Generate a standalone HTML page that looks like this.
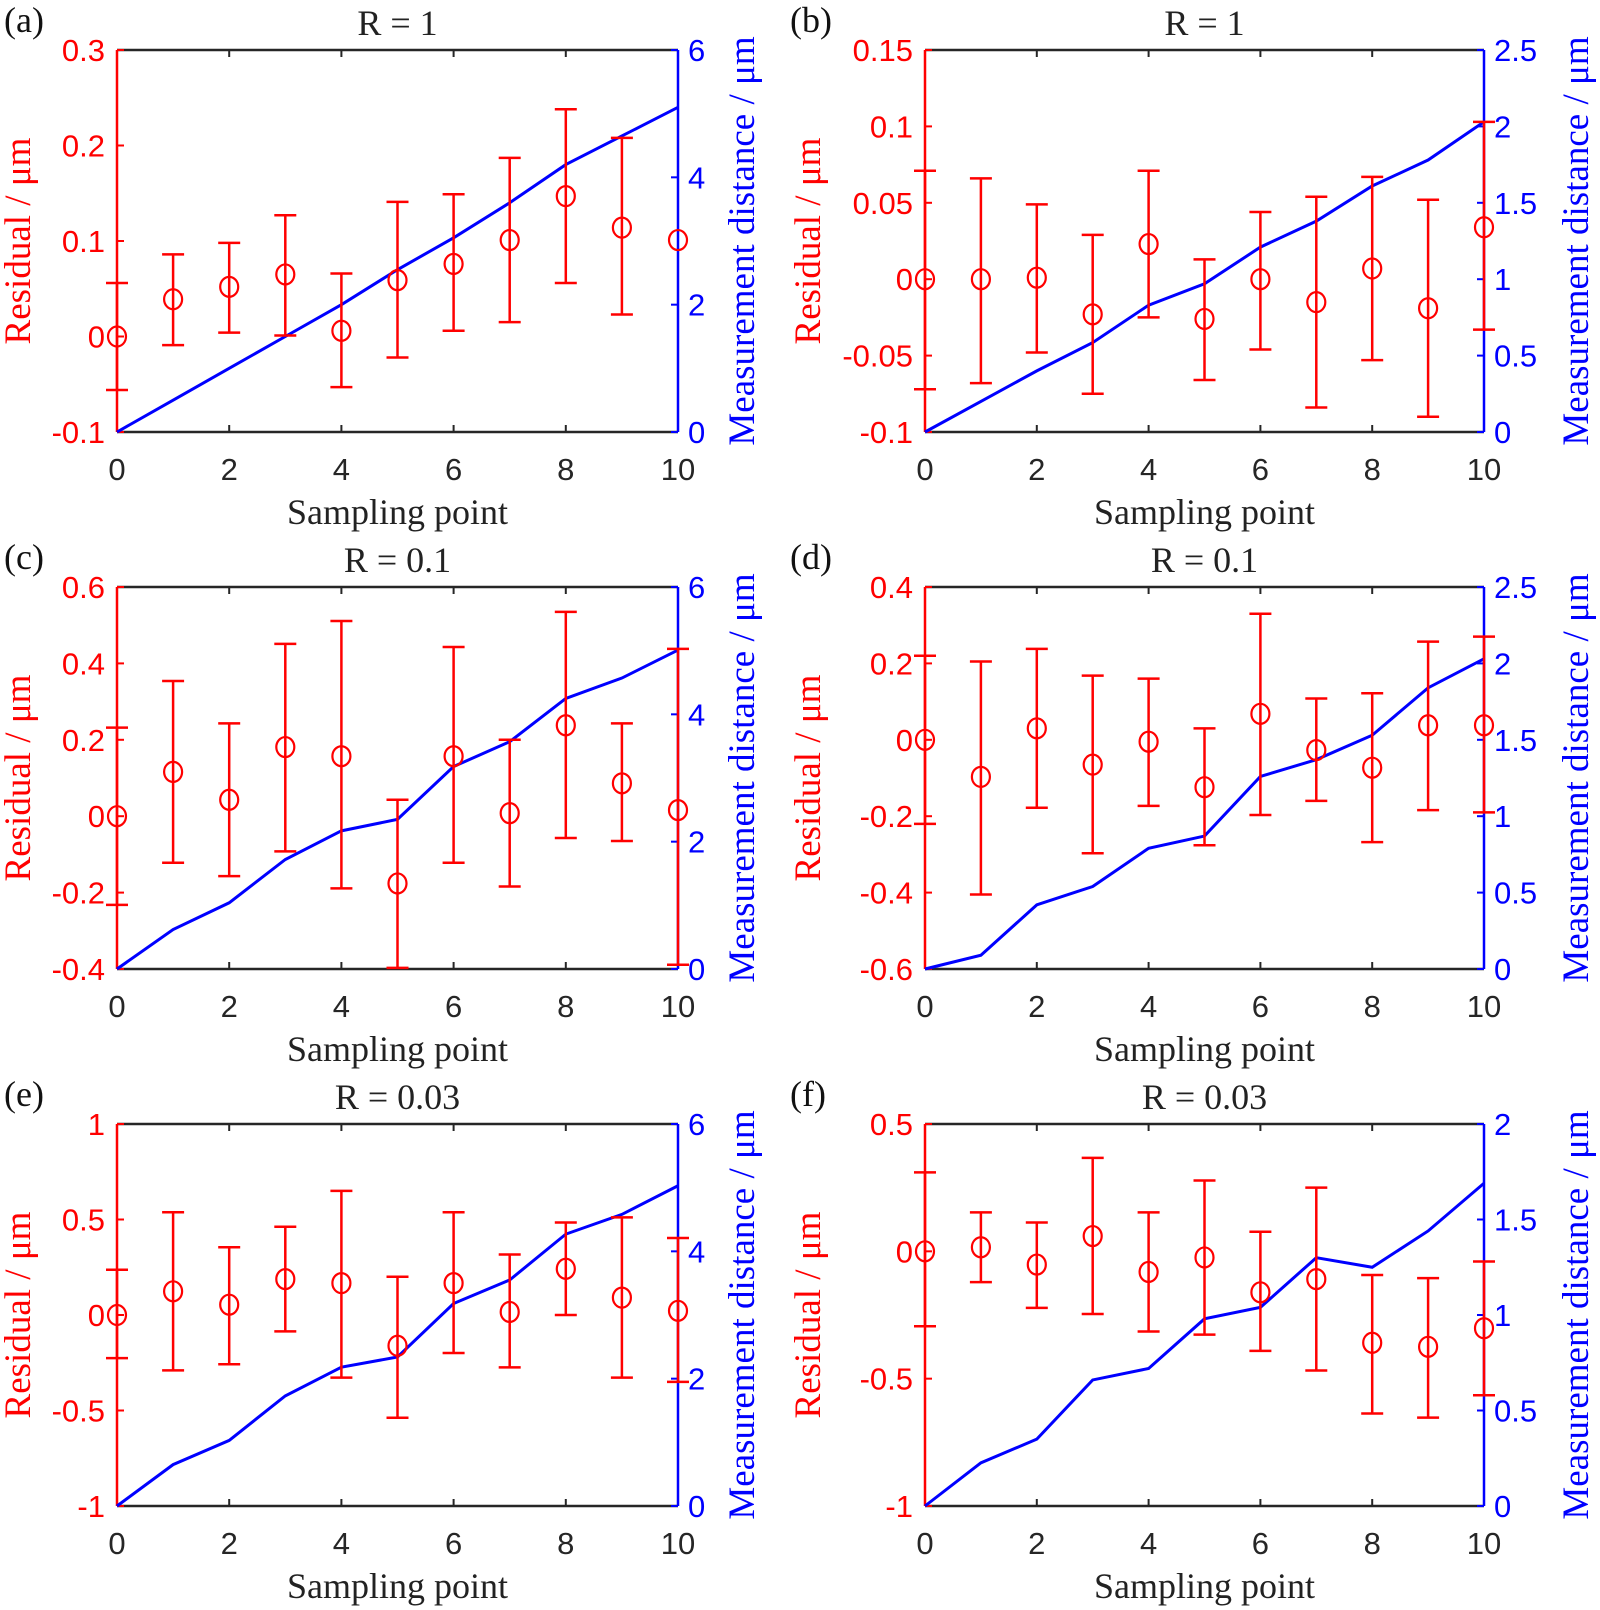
<!DOCTYPE html>
<html><head><meta charset="utf-8"><style>
html,body{margin:0;padding:0;background:#fff;}
svg{display:block;}
.tk{font-family:"Liberation Sans",sans-serif;font-size:31px;}
.sf{font-family:"Liberation Serif",serif;font-size:36px;}
.yl{font-family:"Liberation Serif",serif;font-size:37px;}
</style></head><body>
<svg id="s" width="1600" height="1610" xmlns="http://www.w3.org/2000/svg"></svg>
<script>
const panels=[
{lab:'(a)',title:'R = 1',col:0,row:0,yl:[-0.1,0.3],yt:[-0.1,0,0.1,0.2,0.3],ytl:['-0.1','0','0.1','0.2','0.3'],yr:[0,6],yrt:[0,2,4,6],yrtl:['0','2','4','6'],
 d:[[0,0.056,-0.056],[0.039,0.086,-0.009],[0.052,0.098,0.004],[0.065,0.127,0.001],[0.006,0.066,-0.053],[0.059,0.141,-0.022],[0.076,0.149,0.006],[0.101,0.187,0.015],[0.147,0.238,0.056],[0.114,0.208,0.023],[0.101,null,null]],
 b:[0,0.5,1.0,1.5,2.0,2.55,3.05,3.6,4.2,4.65,5.1]},
{lab:'(b)',title:'R = 1',col:1,row:0,yl:[-0.1,0.15],yt:[-0.1,-0.05,0,0.05,0.1,0.15],ytl:['-0.1','-0.05','0','0.05','0.1','0.15'],yr:[0,2.5],yrt:[0,0.5,1,1.5,2,2.5],yrtl:['0','0.5','1','1.5','2','2.5'],
 d:[[0,0.071,-0.072],[0,0.066,-0.068],[0.001,0.049,-0.048],[-0.023,0.029,-0.075],[0.023,0.071,-0.025],[-0.026,0.013,-0.066],[0,0.044,-0.046],[-0.015,0.054,-0.084],[0.007,0.067,-0.053],[-0.019,0.052,-0.09],[0.034,0.103,-0.033]],
 b:[0,0.2,0.4,0.585,0.83,0.97,1.21,1.38,1.61,1.78,2.03]},
{lab:'(c)',title:'R = 0.1',col:0,row:1,yl:[-0.4,0.6],yt:[-0.4,-0.2,0,0.2,0.4,0.6],ytl:['-0.4','-0.2','0','0.2','0.4','0.6'],yr:[0,6],yrt:[0,2,4,6],yrtl:['0','2','4','6'],
 d:[[0,0.232,-0.232],[0.116,0.354,-0.122],[0.043,0.243,-0.157],[0.181,0.451,-0.092],[0.157,0.511,-0.189],[-0.176,0.043,-0.397],[0.157,0.443,-0.122],[0.008,0.2,-0.184],[0.238,0.535,-0.057],[0.086,0.243,-0.065],[0.016,0.438,-0.389]],
 b:[0,0.62,1.04,1.72,2.17,2.35,3.18,3.57,4.25,4.57,5.01]},
{lab:'(d)',title:'R = 0.1',col:1,row:1,yl:[-0.6,0.4],yt:[-0.6,-0.4,-0.2,0,0.2,0.4],ytl:['-0.6','-0.4','-0.2','0','0.2','0.4'],yr:[0,2.5],yrt:[0,0.5,1,1.5,2,2.5],yrtl:['0','0.5','1','1.5','2','2.5'],
 d:[[0,0.22,-0.22],[-0.097,0.205,-0.405],[0.03,0.238,-0.178],[-0.065,0.168,-0.297],[-0.005,0.16,-0.173],[-0.124,0.03,-0.276],[0.068,0.33,-0.197],[-0.027,0.108,-0.16],[-0.073,0.122,-0.268],[0.038,0.257,-0.184],[0.038,0.27,-0.19]],
 b:[0,0.09,0.42,0.54,0.79,0.87,1.26,1.37,1.53,1.84,2.03]},
{lab:'(e)',title:'R = 0.03',col:0,row:2,yl:[-1,1],yt:[-1,-0.5,0,0.5,1],ytl:['-1','-0.5','0','0.5','1'],yr:[0,6],yrt:[0,2,4,6],yrtl:['0','2','4','6'],
 d:[[0,0.237,-0.226],[0.124,0.538,-0.29],[0.054,0.355,-0.258],[0.188,0.462,-0.086],[0.167,0.65,-0.328],[-0.161,0.2,-0.538],[0.167,0.538,-0.199],[0.016,0.317,-0.274],[0.242,0.484,0],[0.091,0.511,-0.328],[0.022,0.403,-0.35]],
 b:[0,0.65,1.03,1.73,2.18,2.34,3.18,3.55,4.27,4.58,5.03]},
{lab:'(f)',title:'R = 0.03',col:1,row:2,yl:[-1,0.5],yt:[-1,-0.5,0,0.5],ytl:['-1','-0.5','0','0.5'],yr:[0,2],yrt:[0,0.5,1,1.5,2],yrtl:['0','0.5','1','1.5','2'],
 d:[[0,0.31,-0.294],[0.016,0.153,-0.121],[-0.052,0.113,-0.222],[0.06,0.367,-0.246],[-0.081,0.153,-0.315],[-0.024,0.278,-0.327],[-0.161,0.077,-0.391],[-0.109,0.25,-0.468],[-0.359,-0.093,-0.637],[-0.375,-0.105,-0.653],[-0.302,-0.04,-0.565]],
 b:[0,0.226,0.35,0.66,0.72,0.98,1.04,1.3,1.25,1.44,1.69]}
];
const R='#ff0000',B='#0000ff';
let h='';
for(const p of panels){
 const L=p.col?925:117, W=p.col?559:561, T=50+p.row*537, H=382, Bt=T+H, Rr=L+W;
 const X=i=>L+W*i/10;
 const Yl=v=>Bt-(v-p.yl[0])/(p.yl[1]-p.yl[0])*H;
 const Yr=v=>Bt-(v-p.yr[0])/(p.yr[1]-p.yr[0])*H;
 h+=`<line x1="${L}" y1="${T}" x2="${Rr}" y2="${T}" stroke="#262626" stroke-width="2.5"/>`;
 h+=`<line x1="${L}" y1="${Bt}" x2="${Rr}" y2="${Bt}" stroke="#262626" stroke-width="2.5"/>`;
 for(let i=0;i<=10;i+=2){const x=X(i);
  h+=`<line x1="${x}" y1="${Bt}" x2="${x}" y2="${Bt-7}" stroke="#262626" stroke-width="2"/><line x1="${x}" y1="${T}" x2="${x}" y2="${T+7}" stroke="#262626" stroke-width="2"/>`;
  h+=`<text class="tk" x="${x}" y="${Bt+48}" text-anchor="middle" fill="#262626">${i}</text>`;}
 p.yt.forEach((v,k)=>{const y=Yl(v);
  h+=`<line x1="${L}" y1="${y}" x2="${L+7}" y2="${y}" stroke="${R}" stroke-width="2"/>`;
  h+=`<text class="tk" x="${L-12}" y="${y+11}" text-anchor="end" fill="${R}">${p.ytl[k]}</text>`;});
 p.yrt.forEach((v,k)=>{const y=Yr(v);
  h+=`<line x1="${Rr}" y1="${y}" x2="${Rr-7}" y2="${y}" stroke="${B}" stroke-width="2"/>`;
  h+=`<text class="tk" x="${Rr+10}" y="${y+11}" fill="${B}">${p.yrtl[k]}</text>`;});
 h+=`<line x1="${L}" y1="${T}" x2="${L}" y2="${Bt}" stroke="${R}" stroke-width="2.5"/>`;
 h+=`<line x1="${Rr}" y1="${T}" x2="${Rr}" y2="${Bt}" stroke="${B}" stroke-width="2.5"/>`;
 h+=`<polyline fill="none" stroke="${B}" stroke-width="3" points="${p.b.map((v,i)=>X(i)+','+Yr(v)).join(' ')}"/>`;
 p.d.forEach((d,i)=>{const x=X(i);
  if(d[1]!==null){const y1=Yl(d[1]),y2=Yl(d[2]);
   h+=`<line x1="${x}" y1="${y1}" x2="${x}" y2="${y2}" stroke="${R}" stroke-width="2.5"/>`;
   h+=`<line x1="${x-11}" y1="${y1}" x2="${x+11}" y2="${y1}" stroke="${R}" stroke-width="2.5"/>`;
   h+=`<line x1="${x-11}" y1="${y2}" x2="${x+11}" y2="${y2}" stroke="${R}" stroke-width="2.5"/>`;}
  h+=`<ellipse cx="${x}" cy="${Yl(d[0])}" rx="9" ry="10" fill="none" stroke="${R}" stroke-width="2.2"/>`;});
 const cx=L+W/2, cy=T+H/2;
 h+=`<text class="sf" x="${cx}" y="${T-15}" text-anchor="middle" fill="#222">${p.title}</text>`;
 h+=`<text class="sf" x="${cx}" y="${Bt+92}" text-anchor="middle" fill="#222">Sampling point</text>`;
 h+=`<text class="sf" x="${p.col?790:4}" y="${T-18}" fill="#111" style="font-size:36px">${p.lab}</text>`;
 const lx=p.col?820:30;
 h+=`<text class="yl" transform="translate(${lx},${cy}) rotate(-90)" text-anchor="middle" fill="${R}">Residual / μm</text>`;
 const rx=p.col?1588:754;
 h+=`<text class="yl" transform="translate(${rx},${cy}) rotate(-90)" text-anchor="middle" fill="${B}">Measurement distance / μm</text>`;
}
document.getElementById('s').innerHTML=h;
</script>
</body></html>
